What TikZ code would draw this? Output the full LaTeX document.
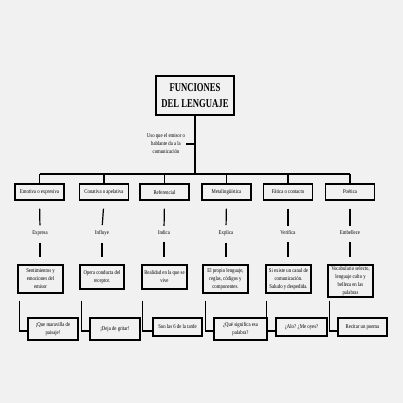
\documentclass[tikz,border=0pt]{standalone}
\usepackage{fontspec}
\setmainfont[FakeStretch=0.82]{Liberation Serif}
\usepackage{graphicx}
\definecolor{bg}{RGB}{241,241,241}
\begin{document}
\begin{tikzpicture}[x=1pt,y=-1pt,
  conn/.style={line width=1.2pt},
  lvlone/.style={draw, line width=1.3pt, minimum width=49pt, minimum height=16pt, inner sep=1pt, font=\fontsize{5.8}{6}\selectfont},
  lvltwo/.style={draw, line width=1.3pt, inner sep=1pt, align=center, font=\fontsize{5.8}{8}\selectfont},
  verb/.style={inner sep=1pt, font=\fontsize{5.8}{6}\selectfont},
  lline/.style={conn}]
\fill[bg] (0,0) rectangle (403,403);
\useasboundingbox (0,0) rectangle (403,403);

% title
\node[draw, line width=1.8pt, minimum width=78pt, minimum height=39pt, align=center,
      font=\fontsize{12}{16}\selectfont\bfseries] (title) at (195,95.5)
  {\scalebox{0.88}[1]{FUNCIONES}\\\scalebox{0.88}[1]{DEL LENGUAJE}};
\node[align=center, inner sep=1pt, font=\fontsize{5.8}{8}\selectfont] (uso) at (166,144)
  {Uso que el emisor o\\hablante da a la\\comunicación};

\coordinate (busL) at (40,174);
\coordinate (busR) at (350,174);
\draw[line width=1.6pt] (busL) -- (busR);
\draw[line width=1.6pt] (title.south) -- (title.south |- busL);
\draw[line width=1.6pt] (uso.east) -- (uso.east -| title.south);

% level one
\node[lvlone] (b1) at (39.5,192) {Emotiva o expresiva};
\node[lvlone] (b2) at (104,192) {Conativa o apelativa};
\node[lvlone] (b3) at (164.5,192) {Referencial};
\node[lvlone] (b4) at (226.5,192) {Metalingüística};
\node[lvlone] (b5) at (288,192) {Fática o contacto};
\node[lvlone] (b6) at (350,192) {Poética};

\foreach \i in {1,...,6} {
  \draw[conn] (b\i.north) -- (b\i.north |- busL);
}

% verbs
\node[verb] (v1) at (40,233) {Expresa};
\node[verb] (v2) at (102,233) {Influye};
\node[verb] (v3) at (164,233) {Indica};
\node[verb] (v4) at (226,233) {Explica};
\node[verb] (v5) at (288,233) {Verifica};
\node[verb] (v6) at (350,233) {Embellece};

% level two
\node[lvltwo, minimum width=45pt, minimum height=28pt] (s1) at (40.5,279) {Sentimientos y\\emociones del\\emisor};
\node[lvltwo, minimum width=44pt, minimum height=24pt] (s2) at (102,277) {Opera conducta del\\receptor.};
\node[lvltwo, minimum width=45pt, minimum height=24pt] (s3) at (164.5,277) {Realidad en la que se\\vive};
\node[lvltwo, minimum width=45pt, minimum height=28pt] (s4) at (225.5,279) {El propio lenguaje,\\reglas, códigos y\\componentes.};
\node[lvltwo, minimum width=45pt, minimum height=28pt] (s5) at (288.5,279) {Si existe un canal de\\comunicación.\\Saludo y despedida.};
\node[lvltwo, minimum width=45pt, minimum height=32pt] (s6) at (350.5,281) {Vocabulario selecto,\\lenguaje culto y\\belleza en las\\palabras};

\foreach \i in {1,...,6} {
  \draw[conn, shorten <=8pt, shorten >=4pt] (b\i.south) -- (v\i.north);
  \draw[conn, shorten <=6pt, shorten >=7pt] (v\i.south) -- (v\i.south |- s\i.north);
}

% examples
\node[lvltwo, minimum width=50pt, minimum height=22pt] (e1) at (53,329) {¡Que maravilla de\\paisaje!};
\node[lvltwo, minimum width=50pt, minimum height=22pt] (e2) at (115,329) {¡Deja de gritar!};
\node[lvltwo, minimum width=49pt, minimum height=18pt] (e3) at (177.5,327) {Son las 6 de la tarde};
\node[lvltwo, minimum width=53pt, minimum height=22pt] (e4) at (240.5,329) {¿Qué significa esa\\palabra?};
\node[lvltwo, minimum width=51pt, minimum height=18pt] (e5) at (301.5,327) {¿Alo? ¿Me oyes?};
\node[lvltwo, minimum width=49pt, minimum height=18pt] (e6) at (362.5,327) {Recitar un poema};

\draw[lline] ([xshift=2pt,yshift=-7pt]s1.south west) |- ([yshift=-2pt]e1.west);
\draw[lline] ([xshift=2pt,yshift=-11pt]s2.south west) |- ([yshift=-2pt]e2.west);
\draw[lline] ([xshift=1pt,yshift=-11pt]s3.south west) |- ([yshift=-4pt]e3.west);
\draw[lline] ([xshift=3pt,yshift=-7pt]s4.south west) |- ([yshift=-2pt]e4.west);
\draw[lline] ([xshift=1pt,yshift=-7pt]s5.south west) |- ([yshift=-4pt]e5.west);
\draw[lline] ([xshift=2pt,yshift=-3pt]s6.south west) |- ([yshift=-4pt]e6.west);
\end{tikzpicture}
\end{document}
